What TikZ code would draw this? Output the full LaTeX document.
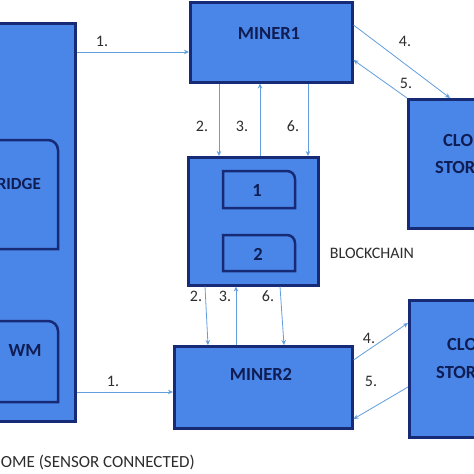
\documentclass[tikz,border=0pt]{standalone}
\usepackage{fontspec}
\setmainfont{Carlito}
\usetikzlibrary{arrows.meta}
\definecolor{boxblue}{RGB}{74,134,232}
\definecolor{edge}{RGB}{22,42,118}
\definecolor{link}{RGB}{98,158,222}
\definecolor{ink}{RGB}{45,45,45}

\begin{document}
\begin{tikzpicture}[x=1pt, y=-1pt,
    unit/.style={draw=edge, fill=boxblue, line width=2.5pt, anchor=north west, inner sep=0pt},
    slot/.style={draw=edge, fill=boxblue, line width=2.5pt},
    unitname/.style={font=\bfseries\fontsize{18.5}{22}\selectfont, text=edge!70!black, inner sep=0pt},
    tag/.style={font=\fontsize{16}{19}\selectfont, text=ink, inner sep=0pt},
    link/.style={draw=link, line width=0.8pt, -{Stealth[length=5pt,width=4.5pt]}}]
\clip (0,0) rectangle (474,474);
\fill[white] (0,0) rectangle (474,474);

\node[unit, minimum width=110pt, minimum height=398pt] (home) at (-36,22) {};
\draw[slot] (-30,140) [rounded corners=10pt] -- (58,140) [sharp corners] -- (58,249) -- (-30,249) -- cycle;
\draw[slot] (-30,321) [rounded corners=10pt] -- (58,321) [sharp corners] -- (58,402) -- (-30,402) -- cycle;
\node[unitname, anchor=east, font=\bfseries\fontsize{17}{20}\selectfont] (bridge) at (41,184) {BRIDGE};
\node[unitname] (wm) at (25,350) {WM};
\node[tag, anchor=east, font=\fontsize{17}{20}\selectfont] (home name) at (195,462) {HOME (SENSOR CONNECTED)};

\node[unit, minimum width=162pt, minimum height=80pt] (miner1) at (189,1) {};
\node[unit, minimum width=178pt, minimum height=82pt] (miner2) at (173,345) {};
\node[unitname] at (269,33) {MINER1};
\node[unitname] at (261,374) {MINER2};

\node[unit, minimum width=130pt, minimum height=128pt] (chain) at (187,156) {};
\draw[slot] (223,171) [rounded corners=8pt] -- (295,171) [sharp corners] -- (295,208) -- (223,208) -- cycle;
\draw[slot] (223,235) [rounded corners=8pt] -- (295,235) [sharp corners] -- (295,271) -- (223,271) -- cycle;
\node[unitname] (block1) at (257,190) {1};
\node[unitname] (block2) at (258,254) {2};
\node[tag] (chain name) at (372,253) {BLOCKCHAIN};

\node[unit, minimum width=100pt, minimum height=129pt] (cloud1) at (407,98) {};
\node[unit, minimum width=100pt, minimum height=137pt] (cloud2) at (408,299) {};
\node[unitname, anchor=west] at (443,140) {CLOUD};
\node[unitname, anchor=west] at (435,167) {STORAGE};
\node[unitname, anchor=west] at (447,344) {CLOUD};
\node[unitname, anchor=west] at (436,372) {STORAGE};

\draw[link] (home.east |- 0,52) -- (miner1.west |- 0,52);
\draw[link] (miner1.south -| 219,0) -- (chain.north -| 219,0);
\draw[link] (chain.north -| 260,0) -- (miner1.south -| 260,0);
\draw[link] (miner1.south -| 308,0) -- (chain.north -| 308,0);
\draw[link] (miner1.east |- 0,25) -- (cloud1.north -| 450,0);
\draw[link] (cloud1.north west) -- (miner1.east |- 0,60);
\draw[link] (chain.south -| 205,0) -- (miner2.north -| 208,0);
\draw[link] (miner2.north -| 236,0) -- (chain.south -| 236,0);
\draw[link] (chain.south -| 280,0) -- (miner2.north -| 284,0);
\draw[link] (home.east |- 0,392) -- (miner2.west |- 0,392);
\draw[link] (miner2.east |- 0,360) -- (cloud2.west |- 0,323);
\draw[link] (cloud2.west |- 0,387) -- (miner2.east |- 0,419);

\node[tag] at (102,41) {1.};
\node[tag] at (202,126) {2.};
\node[tag] at (242,126) {3.};
\node[tag] at (293,126) {6.};
\node[tag] at (405,41) {4.};
\node[tag] at (406,83) {5.};
\node[tag] at (196,296) {2.};
\node[tag] at (225,296) {3.};
\node[tag] at (268,296) {6.};
\node[tag] at (113,381) {1.};
\node[tag] at (369,338) {4.};
\node[tag] at (371,381) {5.};
\end{tikzpicture}
\end{document}
